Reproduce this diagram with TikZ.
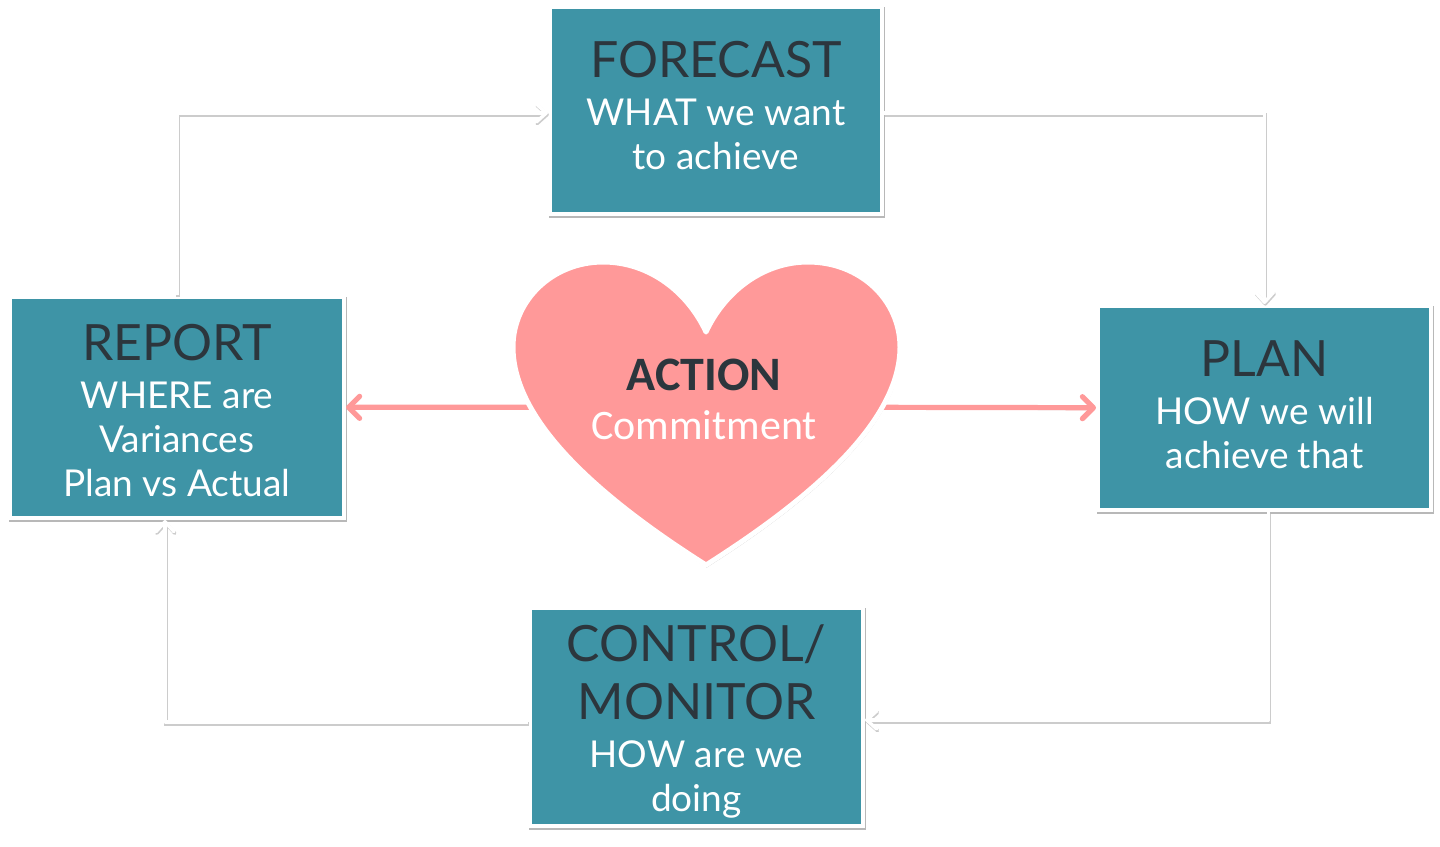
\documentclass[tikz,border=0pt]{standalone}
\usepackage{fontspec}
\setmainfont{Lato}
\newfontfamily\heartfont{Carlito}
\usetikzlibrary{calc,positioning,shadows,arrows.meta}
\definecolor{boxteal}{HTML}{3E94A6}
\definecolor{heartpink}{HTML}{FF9999}
\definecolor{titledark}{HTML}{2C363D}
\newcommand{\boxtitle}[1]{{\color{titledark}\fontsize{25}{29.5}\selectfont #1}}
\newcommand{\padtop}[1]{\rule{0pt}{#1}}
\newcommand{\padbot}[1]{\rule[-#1]{0pt}{#1}}
\tikzset{
  boxnode/.style={draw=white,line width=2pt,fill=boxteal,text=white,inner sep=0pt,align=center,
    font=\fontsize{18.5}{22}\selectfont,
    drop shadow={shadow xshift=.5pt,shadow yshift=-1pt,fill=black!28,draw=black!28,opacity=1}},
  wire/.style={draw=white,line width=1.9pt,line join=round,
    preaction={draw=black!20,line width=1.9pt,transform canvas={shift={(.4pt,-.8pt)}}}},
  wiretip/.style={wire,-{Straight Barb[length=5pt,width=9pt,line width=1.7pt,round]}},
  pinkarrow/.style={draw=heartpink,line width=2.6pt,-{Straight Barb[length=5.5pt,width=11pt,line width=2.6pt,round]},
    preaction={draw=black!18,transform canvas={shift={(0pt,-1pt)}}}}
}
\begin{document}
\begin{tikzpicture}[x=.5pt,y=-.5pt]
  \useasboundingbox (0,0) rectangle (1440,846);
  \fill[white] (0,0) rectangle (1440,846);
  \node[boxnode,minimum width=166pt,minimum height=103.5pt] (forecast) at (716,110.5)
    {\boxtitle{FORECAST}\\[2pt] WHAT we want\\ to achieve\padbot{5.5pt}};
  \node[boxnode,minimum width=167pt,minimum height=110.5pt] (report) at (177,407.5)
    {\padtop{21.5pt}\boxtitle{REPORT}\\[2pt] WHERE are\\ Variances\\ Plan vs Actual};
  \node[boxnode,minimum width=166.5pt,minimum height=102pt] (plan) at (1264.5,408)
    {\boxtitle{PLAN}\\[2pt] HOW we will\\ achieve that\padbot{3.5pt}};
  \node[boxnode,minimum width=166.5pt,minimum height=109pt] (control) at (696.5,717)
    {\padtop{23pt}\boxtitle{CONTROL/}\\[7pt] \boxtitle{MONITOR}\\[2pt] HOW are we\\ doing};
  \coordinate (heart) at (706,407);
  \coordinate (forecastin) at ([yshift=-1.25pt]forecast.west);
  \coordinate (forecastout) at ([yshift=-1.25pt]forecast.east);
  \coordinate (planout) at ([xshift=2pt]plan.south);
  \coordinate (controlin) at ([yshift=-1.5pt]control.east);
  \coordinate (controlout) at ([yshift=-2.5pt]control.west);
  \coordinate (reportin) at ([xshift=-6pt]report.south);
  \draw[wiretip] (report.north) |- (forecastin);
  \draw[wiretip] (forecastout) -| (plan.north);
  \draw[wiretip] (planout) |- (controlin);
  \draw[wiretip] (controlout) -| (reportin);
  \draw[pinkarrow] (heart) -- (report);
  \draw[pinkarrow] (heart) -- (plan);
  \draw[draw=white,line width=2.5pt,fill=heartpink,line join=round,
    drop shadow={shadow xshift=.4pt,shadow yshift=-1pt,fill=black!25,draw=black!25,opacity=1}]
    (706,332) .. controls (688,293) and (650,262) .. (603,262)
    .. controls (553,262) and (513,300) .. (513,347)
    .. controls (513,410) and (575,482) .. (706,565)
    .. controls (837,482) and (900,410) .. (900,347)
    .. controls (900,300) and (860,262) .. (808,262)
    .. controls (762,262) and (724,293) .. (706,332) -- cycle;
  \node[font=\heartfont\fontsize{24}{28}\selectfont\bfseries,text=titledark] (action) at (704,375) {ACTION};
  \node[font=\heartfont\fontsize{21}{25}\selectfont,text=white,below=3pt of action] (commitment) {Commitment};
\end{tikzpicture}
\end{document}
